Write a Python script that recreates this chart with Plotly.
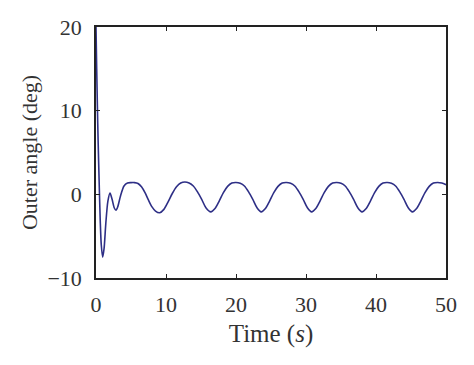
import plotly.graph_objects as go

# Time (s) and outer angle (deg)
time_s = [0, 0.1, 0.2, 0.3, 0.45, 0.6, 0.75, 0.95, 1.15, 1.4, 1.7, 2.0, 2.3, 2.6, 2.85, 3.1, 3.5, 4.0, 4.5,
          5.0, 5.5, 6.0, 6.5, 7.0, 7.5, 8.0, 8.5,
          9.1, 9.7, 10.3, 10.9, 11.5, 12.1, 12.7, 13.3, 13.9, 14.5, 15.1, 15.7,
          16.4, 17.0, 17.6, 18.2, 18.8, 19.4, 20.0, 20.6, 21.2, 21.8, 22.4, 23.0,
          23.6, 24.2, 24.8, 25.4, 26.0, 26.6, 27.2, 27.8, 28.4, 29.0, 29.6, 30.2,
          30.8, 31.4, 32.0, 32.6, 33.2, 33.8, 34.4, 35.0, 35.6, 36.2, 36.8, 37.4,
          38.0, 38.6, 39.2, 39.8, 40.4, 41.0, 41.6, 42.2, 42.8, 43.4, 44.0, 44.6,
          45.2, 45.8, 46.4, 47.0, 47.6, 48.2, 48.8, 49.4, 50.0]
angle_deg = [20, 15, 10.5, 6.5, 1.5, -3.0, -6.0, -7.5, -6.5, -3.5, -0.8, 0.15, -0.6, -1.6, -1.9, -1.5, -0.2, 1.0, 1.35,
             1.4, 1.4, 1.3, 0.9, 0.2, -0.7, -1.5, -2.0,
             -2.2, -1.8, -0.9, 0.1, 0.9, 1.35, 1.47, 1.35, 1.0, 0.3, -0.6, -1.6,
             -2.1, -1.7, -0.8, 0.2, 0.95, 1.35, 1.42, 1.32, 1.0, 0.3, -0.6, -1.6,
             -2.1, -1.7, -0.8, 0.2, 0.95, 1.35, 1.42, 1.32, 1.0, 0.3, -0.6, -1.6,
             -2.1, -1.7, -0.8, 0.2, 0.95, 1.35, 1.42, 1.32, 1.0, 0.3, -0.6, -1.6,
             -2.1, -1.7, -0.8, 0.2, 0.95, 1.35, 1.42, 1.32, 1.0, 0.3, -0.6, -1.6,
             -2.1, -1.7, -0.8, 0.2, 0.95, 1.35, 1.42, 1.35, 1.15]

x_ticks = [0, 10, 20, 30, 40, 50]
y_ticks = [-10, 0, 10, 20]

font_family = "Liberation Serif, DejaVu Serif, serif"
text_color = "#333333"

fig = go.Figure()
fig.add_trace(go.Scatter(
    x=time_s, y=angle_deg, mode="lines",
    line=dict(color="#2E2F86", width=1.6, shape="spline", smoothing=0.8),
    showlegend=False,
))

axis_common = dict(
    showline=True, linecolor="#222222", linewidth=1.5, mirror="ticks",
    ticks="inside", ticklen=4, tickwidth=1.2, tickcolor="#222222",
    showgrid=False, zeroline=False,
    tickfont=dict(family=font_family, size=22, color=text_color),
)

fig.update_xaxes(range=[0, 50], tickvals=x_ticks, ticklabelstandoff=6, **axis_common,
                 title=dict(text="Time (<i>s</i>)", font=dict(family=font_family, size=25, color=text_color),
                            standoff=8))
fig.update_yaxes(range=[-10, 20], tickvals=y_ticks, ticklabelstandoff=8, **axis_common,
                 title=dict(text="Outer angle (deg)", font=dict(family=font_family, size=22, color=text_color),
                            standoff=4))

fig.update_layout(
    width=474, height=365,
    margin=dict(l=96, r=28, t=27, b=87),
    paper_bgcolor="white", plot_bgcolor="white",
)

fig.write_html("out.html")
